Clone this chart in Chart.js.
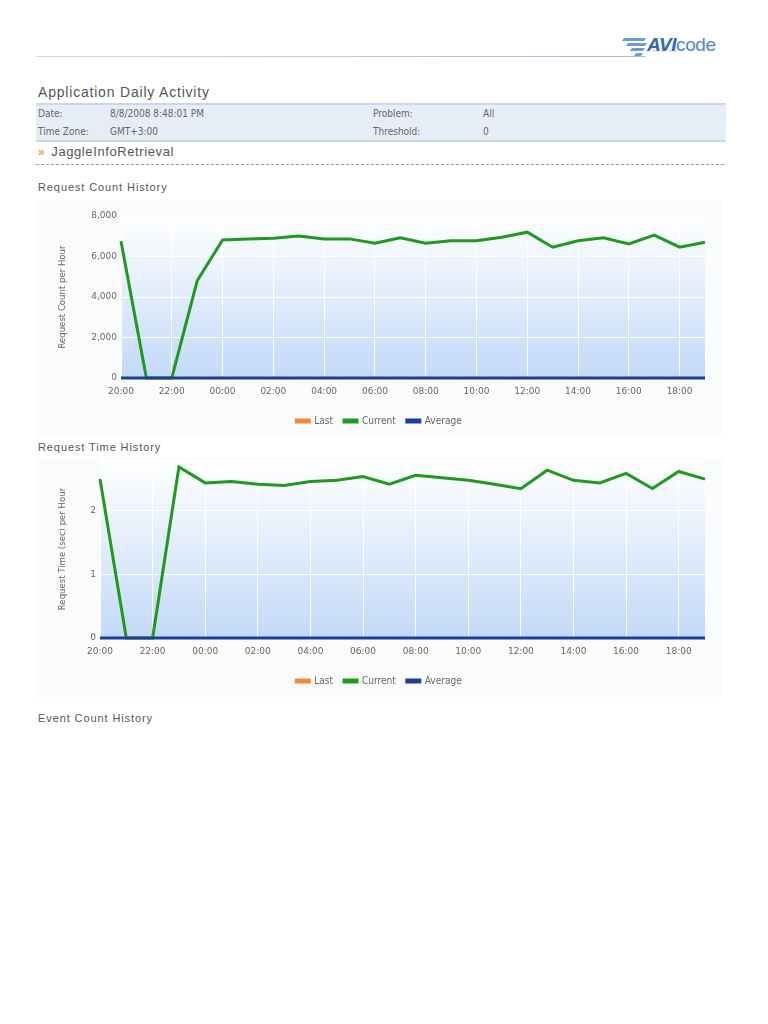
<!DOCTYPE html>
<html><head><meta charset="utf-8">
<script src="https://cdn.jsdelivr.net/npm/chart.js@4.4.0/dist/chart.umd.min.js"></script>
<style>
body{margin:0;background:#fff;width:768px;height:1024px;position:relative;overflow:hidden;font-family:"Liberation Sans",Arial,sans-serif;color:#555;}
.abs{position:absolute;white-space:nowrap;}
.topline{left:36px;top:56px;width:610px;height:1px;background:linear-gradient(to right,#c9daee,#9fc0e2);}
.logo{left:615px;top:30px;width:110px;height:40px;}
.bar{position:absolute;height:3px;background:#6b9ad4;transform:skewX(-35deg);}
.logotext{position:absolute;left:32px;top:4px;font-size:19px;line-height:22px;letter-spacing:-0.4px;}
.logotext b{color:#2f66b3;font-style:italic;font-weight:bold;}
.logotext span{color:#5a86c2;}
.refl{position:absolute;left:32px;top:23px;font-size:19px;line-height:22px;letter-spacing:-0.4px;transform:scaleY(-0.55);transform-origin:top;opacity:0.16;}
.refl b{color:#2f66b3;font-style:italic;}
.refl span{color:#5a86c2;}
.h1{left:38px;top:84px;font-size:14px;letter-spacing:0.8px;color:#555;}
.info{left:36px;top:103px;width:690px;height:35px;background:#e6edf6;border-top:2px solid #c8d7ea;border-bottom:2px solid #c8d7ea;}
.it{position:absolute;font-family:"Liberation Sans Narrow","DejaVu Sans Condensed",sans-serif;font-size:10px;color:#666;}
.sect{left:38px;top:144px;font-size:13px;letter-spacing:0.6px;color:#555;}
.sect i{color:#f3a04a;font-style:normal;font-weight:bold;margin-right:6px;font-size:12px;}
.dash{left:36px;top:164px;width:688px;height:0;border-top:1px dashed #9a9a9a;}
.ct{font-size:11px;letter-spacing:0.9px;color:#555;}
.panel{position:absolute;background:#f9fbfd;}
</style></head><body>

<div class="abs topline"></div>
<div class="abs logo">
  <div class="bar" style="left:8px;top:8px;width:22px;"></div>
  <div class="bar" style="left:12px;top:13px;width:19px;"></div>
  <div class="bar" style="left:16px;top:18px;width:13px;"></div>
  <div class="bar" style="left:20px;top:23px;width:7px;"></div>
  <div class="logotext"><b>AVI</b><span>code</span></div>
  <div class="refl"><b>AVI</b><span>code</span></div>
</div>

<div class="abs h1">Application Daily Activity</div>
<div class="abs info">
  <div class="it" style="left:2px;top:3px;">Date:</div>
  <div class="it" style="left:74px;top:3px;">8/8/2008 8:48:01 PM</div>
  <div class="it" style="left:337px;top:3px;">Problem:</div>
  <div class="it" style="left:447px;top:3px;">All</div>
  <div class="it" style="left:2px;top:21px;">Time Zone:</div>
  <div class="it" style="left:74px;top:21px;">GMT+3:00</div>
  <div class="it" style="left:337px;top:21px;">Threshold:</div>
  <div class="it" style="left:447px;top:21px;">0</div>
</div>
<div class="abs sect"><i>&raquo;</i>JaggleInfoRetrieval</div>
<div class="abs dash"></div>

<div class="abs ct" style="left:38px;top:181px;">Request Count History</div>
<div class="panel" style="left:36px;top:200px;width:686px;height:237px;"><canvas id="c1"></canvas></div>

<div class="abs ct" style="left:38px;top:441px;">Request Time History</div>
<div class="panel" style="left:36px;top:458px;width:686px;height:239px;"><canvas id="c2"></canvas></div>

<div class="abs ct" style="left:38px;top:712px;">Event Count History</div>

<script>
const hours = ['20:00','21:00','22:00','23:00','00:00','01:00','02:00','03:00','04:00','05:00','06:00','07:00',
               '08:00','09:00','10:00','11:00','12:00','13:00','14:00','15:00','16:00','17:00','18:00','19:00'];
const seriesNames = ['Last','Current','Average'];
const countLast = [];
const countCurrent = [6750,0,0,4800,6820,6860,6900,7010,6870,6870,6660,6920,6660,6780,6780,6950,7200,6460,6780,6920,6620,7060,6460,6700];
const countAverage = [0,0,0,0,0,0,0,0,0,0,0,0,0,0,0,0,0,0,0,0,0,0,0,0];
const timeLast = [];
const timeCurrent = [2.50,0,0,2.69,2.44,2.46,2.42,2.40,2.46,2.48,2.54,2.42,2.56,2.52,2.48,2.42,2.35,2.64,2.48,2.44,2.59,2.35,2.62,2.50];
const timeAverage = [0,0,0,0,0,0,0,0,0,0,0,0,0,0,0,0,0,0,0,0,0,0,0,0];

const plotBg = {
  id:'plotBg',
  beforeDraw(chart){
    const {ctx, chartArea:a} = chart;
    const g = ctx.createLinearGradient(0,a.top,0,a.bottom);
    g.addColorStop(0,'#ffffff');
    g.addColorStop(1,'#c2d9f8');
    ctx.save(); ctx.fillStyle = g; ctx.fillRect(a.left,a.top,a.right-a.left,a.bottom-a.top); ctx.restore();
  }
};

function makeChart(id, last, current, average, yMax, yStep, yTitle, yWidth, padTop, fmt){
  return new Chart(document.getElementById(id), {
    type:'line',
    data:{labels:hours, datasets:[
      {label:seriesNames[0], data:last, borderColor:'#f08a3a', backgroundColor:'#f08a3a', borderWidth:3, pointRadius:0, order:2},
      {label:seriesNames[1], data:current, borderColor:'#1f9a1f', backgroundColor:'#1f9a1f', borderWidth:3, pointRadius:0, order:1, clip:false},
      {label:seriesNames[2], data:average, borderColor:'#1c3f95', backgroundColor:'#1c3f95', borderWidth:3, pointRadius:0, order:0, clip:false}
    ]},
    options:{
      responsive:true, maintainAspectRatio:false, animation:false,
      events:[],
      layout:{padding:{left:17,right:17,top:padTop,bottom:1}},
      plugins:{
        tooltip:{enabled:false},
        legend:{position:'bottom', labels:{boxWidth:13, boxHeight:2, padding:11, color:'#666',
          sort:(a,b)=>a.datasetIndex-b.datasetIndex,
          font:{family:'DejaVu Sans Condensed', size:10}}}
      },
      scales:{
        x:{offset:false,
          grid:{color:'#ffffff', lineWidth:1, drawTicks:false},
          border:{display:false},
          ticks:{autoSkip:false, maxRotation:0, padding:8, color:'#666', font:{family:'DejaVu Sans', size:9},
            callback:function(v,i){ return i%2===0 ? this.getLabelForValue(v) : null; }},
          afterFit(s){ s.height = 27; s.paddingLeft = 0; s.paddingRight = 0; }
        },
        y:{min:0, max:yMax,
          grid:{color:'#ffffff', lineWidth:1, drawTicks:false},
          border:{display:false},
          ticks:{stepSize:yStep, includeBounds:false, padding:4, color:'#666', font:{family:'DejaVu Sans', size:9}, callback:fmt},
          title:{display:true, text:yTitle, color:'#666', font:{family:'DejaVu Sans Condensed', size:9.5}, padding:{top:4,bottom:0}},
          afterFit(s){ s.width = yWidth; s.paddingTop = 0; s.paddingBottom = 0; }
        }
      }
    },
    plugins:[plotBg]
  });
}

makeChart('c1', countLast, countCurrent, countAverage, 8000, 2000, 'Request Count per Hour', 68, 16,
  v => v.toLocaleString('en-US'));
makeChart('c2', timeLast, timeCurrent, timeAverage, 2.8, 1, 'Request Time (sec) per Hour', 47, 2,
  v => String(v));
</script>
</body></html>
